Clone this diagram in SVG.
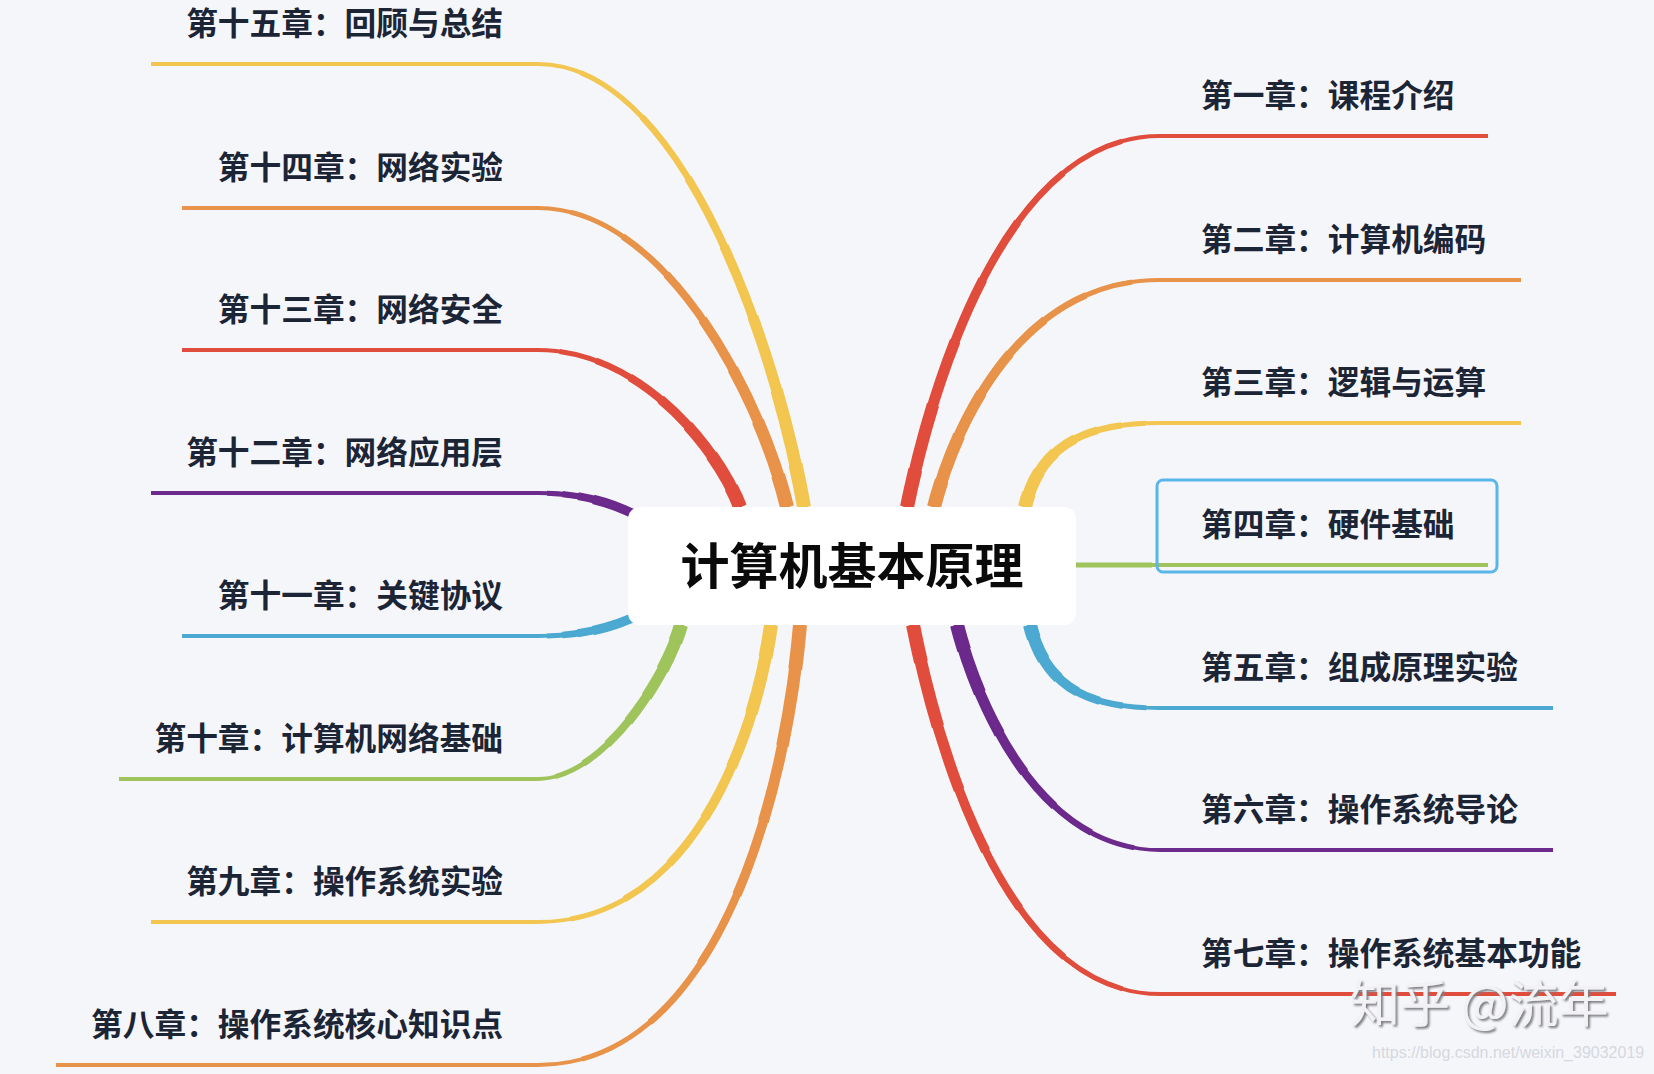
<svg xmlns="http://www.w3.org/2000/svg" xmlns:xlink="http://www.w3.org/1999/xlink" width="1654" height="1074" viewBox="0 0 1654 1074">
<style>
.lbl{font-family:"Noto Sans CJK SC","Noto Sans",sans-serif;font-size:31.7px;font-weight:700;fill:#1c2536}
.title{font-family:"Noto Sans CJK SC","Noto Sans",sans-serif;font-size:49px;font-weight:700;fill:#0a0a0a}
.ul{stroke-width:4;fill:none;stroke-linecap:butt}
.t1{stroke-width:14;stroke-dasharray:8 300}
.t2{stroke-width:12.5;stroke-dasharray:22 300}
.t3{stroke-width:11;stroke-dasharray:36 300}
.t4{stroke-width:9.5;stroke-dasharray:50 300}
.t5{stroke-width:8;stroke-dasharray:64 300}
.t6{stroke-width:6.5;stroke-dasharray:78 300}
.t7{stroke-width:5;stroke-dasharray:92 300}
.t8{stroke-width:3.8}
.red{stroke:#E14D3D}.orange{stroke:#E8934A}.yellow{stroke:#F2C650}.purple{stroke:#6C2A8C}.blue{stroke:#4CA9D1}.green{stroke:#9EC45B}
</style>
<defs>
<filter id="shadow" x="-10%" y="-20%" width="130%" height="150%">
<feDropShadow dx="2" dy="2" stdDeviation="0.8" flood-color="#7d7d82" flood-opacity="1"/>
</filter>
<path id="p-l15" pathLength="100" d="M804,507 C775,343 680,64 538,64"/>
<path id="p-l14" pathLength="100" d="M787,507 C760,396 665,208 538,208"/>
<path id="p-l13" pathLength="100" d="M740,507 C718,449 640,350 538,350"/>
<path id="p-l12" pathLength="100" d="M645,520 C610,500 575,493 538,493"/>
<path id="p-l11" pathLength="100" d="M645,612 C610,630 575,636 538,636"/>
<path id="p-l10" pathLength="100" d="M681,625 C665,682 600,779 538,779"/>
<path id="p-l9" pathLength="100" d="M771,625 C755,740 690,922 538,922"/>
<path id="p-l8" pathLength="100" d="M800,625 C785,800 715,1065 538,1065"/>
<path id="p-r1" pathLength="100" d="M907,507 C935,370 1010,136 1160,136"/>
<path id="p-r2" pathLength="100" d="M934,507 C955,425 1020,280 1160,280"/>
<path id="p-r3" pathLength="100" d="M1025,507 C1040,445 1085,423 1160,423"/>
<path id="p-r4" pathLength="100" d="M1060,565 L1160,565"/>
<path id="p-r5" pathLength="100" d="M1030,625 C1045,685 1085,708 1160,708"/>
<path id="p-r6" pathLength="100" d="M957,625 C978,707 1040,850 1160,850"/>
<path id="p-r7" pathLength="100" d="M913,625 C940,760 1010,994 1160,994"/>
</defs>
<rect width="1654" height="1074" fill="#F5F6FA"/>
<g id="connectors" fill="none" stroke-linecap="butt">
<g id="c-l15" class="yellow"><use href="#p-l15" class="t1"/><use href="#p-l15" class="t2"/><use href="#p-l15" class="t3"/><use href="#p-l15" class="t4"/><use href="#p-l15" class="t5"/><use href="#p-l15" class="t6"/><use href="#p-l15" class="t7"/><use href="#p-l15" class="t8"/></g>
<g id="c-l14" class="orange"><use href="#p-l14" class="t1"/><use href="#p-l14" class="t2"/><use href="#p-l14" class="t3"/><use href="#p-l14" class="t4"/><use href="#p-l14" class="t5"/><use href="#p-l14" class="t6"/><use href="#p-l14" class="t7"/><use href="#p-l14" class="t8"/></g>
<g id="c-l13" class="red"><use href="#p-l13" class="t1"/><use href="#p-l13" class="t2"/><use href="#p-l13" class="t3"/><use href="#p-l13" class="t4"/><use href="#p-l13" class="t5"/><use href="#p-l13" class="t6"/><use href="#p-l13" class="t7"/><use href="#p-l13" class="t8"/></g>
<g id="c-l12" class="purple"><use href="#p-l12" class="t4"/><use href="#p-l12" class="t5"/><use href="#p-l12" class="t6"/><use href="#p-l12" class="t7"/><use href="#p-l12" class="t8"/></g>
<g id="c-l11" class="blue"><use href="#p-l11" class="t4"/><use href="#p-l11" class="t5"/><use href="#p-l11" class="t6"/><use href="#p-l11" class="t7"/><use href="#p-l11" class="t8"/></g>
<g id="c-l10" class="green"><use href="#p-l10" class="t1"/><use href="#p-l10" class="t2"/><use href="#p-l10" class="t3"/><use href="#p-l10" class="t4"/><use href="#p-l10" class="t5"/><use href="#p-l10" class="t6"/><use href="#p-l10" class="t7"/><use href="#p-l10" class="t8"/></g>
<g id="c-l9" class="yellow"><use href="#p-l9" class="t1"/><use href="#p-l9" class="t2"/><use href="#p-l9" class="t3"/><use href="#p-l9" class="t4"/><use href="#p-l9" class="t5"/><use href="#p-l9" class="t6"/><use href="#p-l9" class="t7"/><use href="#p-l9" class="t8"/></g>
<g id="c-l8" class="orange"><use href="#p-l8" class="t1"/><use href="#p-l8" class="t2"/><use href="#p-l8" class="t3"/><use href="#p-l8" class="t4"/><use href="#p-l8" class="t5"/><use href="#p-l8" class="t6"/><use href="#p-l8" class="t7"/><use href="#p-l8" class="t8"/></g>
<g id="c-r1" class="red"><use href="#p-r1" class="t1"/><use href="#p-r1" class="t2"/><use href="#p-r1" class="t3"/><use href="#p-r1" class="t4"/><use href="#p-r1" class="t5"/><use href="#p-r1" class="t6"/><use href="#p-r1" class="t7"/><use href="#p-r1" class="t8"/></g>
<g id="c-r2" class="orange"><use href="#p-r2" class="t1"/><use href="#p-r2" class="t2"/><use href="#p-r2" class="t3"/><use href="#p-r2" class="t4"/><use href="#p-r2" class="t5"/><use href="#p-r2" class="t6"/><use href="#p-r2" class="t7"/><use href="#p-r2" class="t8"/></g>
<g id="c-r3" class="yellow"><use href="#p-r3" class="t1"/><use href="#p-r3" class="t2"/><use href="#p-r3" class="t3"/><use href="#p-r3" class="t4"/><use href="#p-r3" class="t5"/><use href="#p-r3" class="t6"/><use href="#p-r3" class="t7"/><use href="#p-r3" class="t8"/></g>
<g id="c-r4" class="green"><use href="#p-r4" class="t7"/><use href="#p-r4" class="t8"/></g>
<g id="c-r5" class="blue"><use href="#p-r5" class="t1"/><use href="#p-r5" class="t2"/><use href="#p-r5" class="t3"/><use href="#p-r5" class="t4"/><use href="#p-r5" class="t5"/><use href="#p-r5" class="t6"/><use href="#p-r5" class="t7"/><use href="#p-r5" class="t8"/></g>
<g id="c-r6" class="purple"><use href="#p-r6" class="t1"/><use href="#p-r6" class="t2"/><use href="#p-r6" class="t3"/><use href="#p-r6" class="t4"/><use href="#p-r6" class="t5"/><use href="#p-r6" class="t6"/><use href="#p-r6" class="t7"/><use href="#p-r6" class="t8"/></g>
<g id="c-r7" class="red"><use href="#p-r7" class="t1"/><use href="#p-r7" class="t2"/><use href="#p-r7" class="t3"/><use href="#p-r7" class="t4"/><use href="#p-r7" class="t5"/><use href="#p-r7" class="t6"/><use href="#p-r7" class="t7"/><use href="#p-r7" class="t8"/></g>
</g>
<g id="root">
<rect x="628" y="507" width="448" height="118" rx="12" fill="#FFFFFF"/>
<text class="title" x="852" y="584" text-anchor="middle">计算机基本原理</text>
</g>
<g id="n-l15"><line class="ul yellow" x1="151" y1="64" x2="538" y2="64"/><text class="lbl" x="503" y="35" text-anchor="end">第十五章：回顾与总结</text></g>
<g id="n-l14"><line class="ul orange" x1="182" y1="208" x2="538" y2="208"/><text class="lbl" x="503" y="179" text-anchor="end">第十四章：网络实验</text></g>
<g id="n-l13"><line class="ul red" x1="182" y1="350" x2="538" y2="350"/><text class="lbl" x="503" y="321" text-anchor="end">第十三章：网络安全</text></g>
<g id="n-l12"><line class="ul purple" x1="151" y1="493" x2="538" y2="493"/><text class="lbl" x="503" y="464" text-anchor="end">第十二章：网络应用层</text></g>
<g id="n-l11"><line class="ul blue" x1="182" y1="636" x2="538" y2="636"/><text class="lbl" x="503" y="607" text-anchor="end">第十一章：关键协议</text></g>
<g id="n-l10"><line class="ul green" x1="119" y1="779" x2="538" y2="779"/><text class="lbl" x="503" y="750" text-anchor="end">第十章：计算机网络基础</text></g>
<g id="n-l9"><line class="ul yellow" x1="151" y1="922" x2="538" y2="922"/><text class="lbl" x="503" y="893" text-anchor="end">第九章：操作系统实验</text></g>
<g id="n-l8"><line class="ul orange" x1="56" y1="1065" x2="538" y2="1065"/><text class="lbl" x="503" y="1036" text-anchor="end">第八章：操作系统核心知识点</text></g>
<g id="n-r1"><line class="ul red" x1="1160" y1="136" x2="1488" y2="136"/><text class="lbl" x="1201" y="107">第一章：课程介绍</text></g>
<g id="n-r2"><line class="ul orange" x1="1160" y1="280" x2="1521" y2="280"/><text class="lbl" x="1201" y="251">第二章：计算机编码</text></g>
<g id="n-r3"><line class="ul yellow" x1="1160" y1="423" x2="1521" y2="423"/><text class="lbl" x="1201" y="394">第三章：逻辑与运算</text></g>
<g id="n-r4"><line class="ul green" x1="1160" y1="565" x2="1488" y2="565"/><text class="lbl" x="1201" y="536">第四章：硬件基础</text><rect x="1157" y="480" width="340" height="92" rx="6" fill="none" stroke="#5AB6E8" stroke-width="3"/></g>
<g id="n-r5"><line class="ul blue" x1="1160" y1="708" x2="1553" y2="708"/><text class="lbl" x="1201" y="679">第五章：组成原理实验</text></g>
<g id="n-r6"><line class="ul purple" x1="1160" y1="850" x2="1553" y2="850"/><text class="lbl" x="1201" y="821">第六章：操作系统导论</text></g>
<g id="n-r7"><line class="ul red" x1="1160" y1="994" x2="1616" y2="994"/><text class="lbl" x="1201" y="965">第七章：操作系统基本功能</text></g>
<g id="watermark">
<text x="1350" y="1022" font-family="'Noto Sans CJK SC','Noto Sans',sans-serif" font-size="50" fill="#F2F2F4" filter="url(#shadow)">知乎 @流年</text>
<text x="1372" y="1058" font-family="'Liberation Sans',sans-serif" font-size="16" fill="#D6D8DE">https://blog.csdn.net/weixin_39032019</text>
</g>
</svg>
